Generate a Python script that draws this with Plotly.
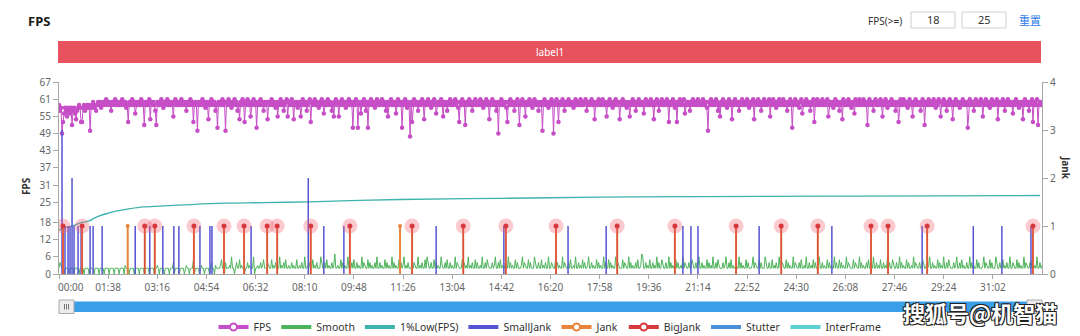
import plotly.graph_objects as go

# ---------------------------------------------------------------- data
SAMPLE_STEP = 2  # seconds between FPS / Smooth samples

# FPS, one row = 40 samples (80 s)
FPS_ROWS = [
    "59 57 58 49 53 56 58 57 55 58 57 56 58 52 57 58 56 54 57 58 59 58 53 53 58 59 57 58 59 58 59 50 58 59 60 58 59 57 59 60",
    "59 60 58 59 60 59 60 61 59 60 60 59 57 60 59 60 61 59 60 59 59 60 59 61 60 59 60 58 59 53 60 59 60 61 59 60 56 59 60 59",
    "60 59 61 60 59 52 60 59 60 59 61 54 60 59 60 59 57 52 60 59 59 60 61 59 58 60 59 60 61 59 60 59 60 59 55 60 61 59 60 59",
    "59 60 61 59 60 60 59 57 60 59 60 61 59 60 53 59 60 59 50 60 59 60 59 61 60 59 58 60 59 54 60 59 61 60 59 60 57 59 51 60",
    "60 59 60 61 59 60 50 60 59 61 59 60 58 59 60 61 59 60 57 59 54 60 59 61 60 53 59 60 61 59 60 55 59 60 61 59 60 51 59 60",
    "59 61 60 59 57 60 59 60 54 60 59 60 61 59 60 59 58 60 55 59 60 61 59 60 57 59 60 61 55 60 59 60 61 59 54 60 59 60 58 59",
    "60 55 59 61 60 59 60 57 59 60 61 53 60 59 60 61 59 60 59 58 60 59 61 60 56 59 60 59 61 60 59 60 57 59 55 60 61 59 60 55",
    "60 59 61 60 59 60 58 59 60 61 59 60 59 51 60 59 61 60 51 59 60 56 59 60 61 59 57 60 51 59 60 61 59 60 59 58 60 61 59 60",
    "59 60 61 59 60 59 57 60 55 59 60 61 59 60 59 60 56 59 61 60 59 60 51 59 60 61 59 58 60 59 48 60 53 59 61 60 59 60 57 59",
    "60 59 61 60 54 59 60 59 61 60 59 58 60 59 61 60 56 59 60 59 60 61 59 55 60 59 60 57 59 60 61 59 60 59 60 61 59 60 58 53",
    "60 59 61 60 59 52 60 59 60 61 59 60 57 59 60 61 59 60 59 60 61 59 60 58 59 60 61 59 60 54 59 60 61 59 60 59 57 60 49 59",
    "60 61 59 60 59 60 58 53 60 59 61 60 59 60 57 59 60 61 59 52 60 59 61 60 59 55 60 59 60 61 59 60 58 59 61 60 59 60 57 59",
    "60 59 50 60 61 59 60 59 58 60 59 61 60 49 59 60 61 59 53 60 59 60 61 59 57 60 59 60 61 59 60 59 60 58 59 61 60 59 60 59",
    "61 59 60 59 60 61 57 59 60 59 60 61 59 60 54 59 60 59 61 60 59 60 61 59 60 59 55 60 59 61 60 59 58 60 59 61 60 59 60 54",
    "60 59 61 60 59 60 58 59 60 55 59 60 61 59 60 57 59 60 61 59 60 59 60 56 59 61 60 59 60 59 61 60 59 54 60 59 61 60 57 59",
    "60 61 59 60 59 60 61 59 53 60 59 60 61 59 58 60 53 59 60 61 59 60 59 61 56 59 60 59 60 57 60 59 61 60 59 60 59 61 60 59",
    "60 59 61 60 59 60 58 50 60 59 61 60 59 60 59 61 60 57 59 55 60 59 61 60 59 60 58 59 61 60 59 54 60 59 61 60 59 60 57 59",
    "60 61 59 60 59 60 61 59 58 60 59 60 61 54 60 59 60 61 59 60 57 59 60 61 59 60 59 60 61 55 60 59 61 60 59 58 60 59 61 60",
    "59 60 61 59 60 59 57 60 59 61 60 51 59 60 61 59 60 59 58 60 61 56 59 60 59 61 60 59 60 57 59 60 61 53 59 60 61 59 60 59",
    "60 61 59 60 59 60 61 55 59 60 59 60 58 59 61 60 59 60 57 59 60 54 61 59 60 59 60 61 59 60 58 59 60 56 61 59 60 59 61 60",
    "59 60 61 59 60 59 52 60 61 59 60 59 57 60 61 59 60 59 60 61 59 55 60 59 61 60 58 59 60 59 61 60 59 60 57 59 60 53 59 61",
    "60 59 61 60 59 60 58 59 61 60 59 55 60 59 61 60 59 60 59 57 60 61 59 52 60 59 60 61 59 60 59 60 61 59 58 60 59 61 60 55",
    "60 59 61 60 59 57 60 59 61 60 59 54 60 59 61 60 59 60 58 59 60 61 59 60 59 60 51 59 61 60 59 60 57 59 61 60 59 60 59 61",
    "60 55 59 60 61 59 60 59 58 60 61 59 60 59 60 61 54 59 60 59 60 61 59 57 60 59 61 60 59 60 59 56 60 59 61 60 59 58 60 59",
    "60 54 59 61 60 59 60 57 59 60 61 53 59 60 59 61 52 59 60 59 60",
]
FPS = [int(v) for row in FPS_ROWS for v in row.split()]

# Smooth, same grid, one digit per sample
SMOOTH_ROWS = [
    "2432202222022220222202222022220222202222",
    "0222202222022220222202222032220222202222",
    "0222202222022220223202222022220222402222",
    "0222202322022250222202322022220242203222",
    "2352204222326220242252322022423222602232",
    "2423522243225232422262324252232242322522",
    "3242262232422523242226322425232242372232",
    "2524232262324252242322624322524232242622",
    "4232252423226242322524236232422252432262",
    "3242252632242252423226322425224232262432",
    "2252423262324225242232622425322242362242",
    "5232242262423225242223624322524222632242",
    "2523242262243225242322624322425223262242",
    "3252422362242322524232262422524232262432",
    "2252432262423224252237622423252242326242",
    "2532242262423225242232624322422532242362",
    "2423225242326224253222423622425232242262",
    "4232252422236243225242226322422523242262",
    "2432252423226243224252232622423252422362",
    "2423225242322624225242322624322252432262",
    "4232242522326224232522423262422532242262",
    "4232252422326243224225322423622423225242",
    "3262242532224236224252322422624232252422",
    "2362432252422263224225232422622432252423",
    "226243224252232622423",
]
SMOOTH = [int(c) for c in "".join(SMOOTH_ROWS)]

# 1%Low(FPS) running value
LOW1_T = [0, 8, 22, 46, 62, 68, 82, 98, 116, 142, 168, 201, 247, 327, 407,
          497, 580, 680, 879, 1079, 1278, 1591, 1956]
LOW1_V = [15.3, 16.0, 16.5, 18.0, 18.6, 19.3, 20.4, 21.2, 22.0, 22.8, 23.4,
          23.7, 24.1, 24.7, 24.9, 25.2, 25.6, 26.0, 26.4, 26.8, 27.0, 27.2, 27.4]

# jank events: time (s) and count
SMALLJANK_T = [6, 12, 18, 22, 26, 30, 38, 44, 62, 68, 86, 152, 181, 207, 229,
               239, 281, 301, 305, 383, 497, 528, 568, 752, 887, 1015, 1091,
               1244, 1260, 1274, 1396, 1541, 1721, 1823, 1880, 1938]
SMALLJANK_V = [3, 1, 1, 1, 2, 1, 1, 1, 1, 1, 1, 1, 1, 1, 1,
               1, 1, 1, 1, 1, 2, 1, 1, 1, 1, 1, 1,
               1, 1, 1, 1, 1, 1, 1, 1, 1]

JANK_T = [8, 46, 137, 171, 191, 269, 329, 369, 415, 435, 502, 580, 680, 704,
          806, 891, 991, 1113, 1228, 1350, 1440, 1513, 1619, 1653, 1731, 1942]
JANK_V = [1, 1, 1, 1, 1, 1, 1, 1, 1, 1, 1, 1, 1, 1,
          1, 1, 1, 1, 1, 1, 1, 1, 1, 1, 1, 1]

BIGJANK_T = [8, 46, 171, 191, 269, 329, 369, 415, 435, 502, 580, 704, 806,
             891, 991, 1113, 1228, 1350, 1440, 1513, 1619, 1653, 1731, 1942]
BIGJANK_V = [1, 1, 1, 1, 1, 1, 1, 1, 1, 1, 1, 1, 1,
             1, 1, 1, 1, 1, 1, 1, 1, 1, 1, 1]

STUTTER_T, STUTTER_V = [], []
INTERFRAME_T, INTERFRAME_V = [], []

# axes
X_END = 1960
FPS_TICKS = [0, 6, 12, 18, 25, 31, 37, 43, 49, 55, 61, 67]
JANK_TICKS = [0, 1, 2, 3, 4]
TIME_LABELS = ["00:00", "01:38", "03:16", "04:54", "06:32", "08:10", "09:48",
               "11:26", "13:04", "14:42", "16:20", "17:58", "19:36", "21:14",
               "22:52", "24:30", "26:08", "27:46", "29:24", "31:02"]

# ---------------------------------------------------------------- helpers
W, H = 1080, 336
L, R, T, B = 59, 1042, 82, 274
FONT = "Noto Sans, Noto Sans CJK SC, sans-serif"
CJK = "Noto Sans CJK SC, sans-serif"


def px(x):
    return (x - L) / (R - L)


def py(y):
    return (B - y) / (B - T)


def secs(label):
    m, s = label.split(":")
    return int(m) * 60 + int(s)


def spikes(times, values):
    xs, ys = [], []
    for t, v in zip(times, values):
        xs += [t, t, None]
        ys += [0, v, None]
    return (xs or [None]), (ys or [None])


def tops(times, values):
    xs, ys = [], []
    for t, v in zip(times, values):
        xs += [t, None]
        ys += [v, None]
    return (xs or [None]), (ys or [None])


C_FPS = "#c64ec6"
C_SMOOTH = "#4db35a"
C_LOW = "#3fb3ad"
C_SMALL = "#5454d4"
C_JANK = "#e8843c"
C_BIG = "#d63a40"
C_STUT = "#4a8fdc"
C_INTER = "#5ed0d0"

fps_t = [i * SAMPLE_STEP for i in range(len(FPS))]
smooth_t = [i * SAMPLE_STEP for i in range(len(SMOOTH))]

fig = go.Figure()

fig.add_trace(go.Scatter(x=smooth_t, y=SMOOTH, mode="lines", name="Smooth",
                         line=dict(color=C_SMOOTH, width=1), showlegend=False))
fig.add_trace(go.Scatter(x=LOW1_T, y=LOW1_V, mode="lines", name="1%Low(FPS)",
                         line=dict(color=C_LOW, width=1.3, shape="spline"),
                         showlegend=False))

sx, sy = spikes(STUTTER_T, STUTTER_V)
fig.add_trace(go.Scatter(x=sx, y=sy, yaxis="y2", mode="lines", name="Stutter",
                         line=dict(color=C_STUT, width=1.5), showlegend=False))
ix, iy = spikes(INTERFRAME_T, INTERFRAME_V)
fig.add_trace(go.Scatter(x=ix, y=iy, yaxis="y2", mode="lines", name="InterFrame",
                         line=dict(color=C_INTER, width=1.5), showlegend=False))

kx, ky = spikes(SMALLJANK_T, SMALLJANK_V)
fig.add_trace(go.Scatter(x=kx, y=ky, yaxis="y2", mode="lines", name="SmallJank",
                         line=dict(color=C_SMALL, width=1.5), showlegend=False))

jx, jy = spikes(JANK_T, JANK_V)
fig.add_trace(go.Scatter(x=jx, y=jy, yaxis="y2", mode="lines", name="Jank",
                         line=dict(color=C_JANK, width=2), showlegend=False))
bx, by = spikes(BIGJANK_T, BIGJANK_V)
fig.add_trace(go.Scatter(x=bx, y=by, yaxis="y2", mode="lines", name="BigJank",
                         line=dict(color=C_BIG, width=1), showlegend=False))

fig.add_trace(go.Scatter(x=fps_t, y=FPS, mode="lines+markers", name="FPS",
                         line=dict(color=C_FPS, width=1),
                         marker=dict(color=C_FPS, size=4.5), showlegend=False))

jtx, jty = tops(JANK_T, JANK_V)
fig.add_trace(go.Scatter(x=jtx, y=jty, yaxis="y2", mode="markers", name="Jank",
                         marker=dict(color=C_JANK, size=4), showlegend=False))
btx, bty = tops(BIGJANK_T, BIGJANK_V)
fig.add_trace(go.Scatter(x=btx, y=bty, yaxis="y2", mode="markers", hoverinfo="skip",
                         marker=dict(color="rgba(240,95,105,0.33)", size=15),
                         showlegend=False))
fig.add_trace(go.Scatter(x=btx, y=bty, yaxis="y2", mode="markers", name="BigJank",
                         marker=dict(color=C_BIG, size=5), showlegend=False))

# legend entries (series name, colour, drawn with symbol)
LEGEND = [("FPS", C_FPS, True), ("Smooth", C_SMOOTH, False),
          ("1%Low(FPS)", C_LOW, False), ("SmallJank", C_SMALL, False),
          ("Jank", C_JANK, True), ("BigJank", C_BIG, True),
          ("Stutter", C_STUT, False), ("InterFrame", C_INTER, False)]
for name, color, sym in LEGEND:
    fig.add_trace(go.Scatter(
        x=[None], y=[None], name=name,
        mode="lines+markers" if sym else "lines",
        line=dict(color=color, width=4),
        marker=dict(color="white", size=7, line=dict(color=color, width=2)),
    ))

# ---------------------------------------------------------------- decorations
shapes = [
    # label band
    dict(type="rect", xref="paper", yref="paper", x0=px(58), x1=px(1041),
         y0=py(63), y1=py(41), fillcolor="#e8525f", line=dict(width=0), layer="below"),
    # threshold inputs
    dict(type="rect", xref="paper", yref="paper", x0=px(911), x1=px(955),
         y0=py(28), y1=py(12), fillcolor="white", line=dict(color="#cfcfcf", width=1)),
    dict(type="rect", xref="paper", yref="paper", x0=px(962), x1=px(1006),
         y0=py(28), y1=py(12), fillcolor="white", line=dict(color="#cfcfcf", width=1)),
    # zoom slider
    dict(type="rect", xref="paper", yref="paper", x0=px(72), x1=px(1030),
         y0=py(312), y1=py(301.5), fillcolor="#3a9fe8", line=dict(width=0)),
    dict(type="rect", xref="paper", yref="paper", x0=px(59), x1=px(74),
         y0=py(313.5), y1=py(300), fillcolor="#ececec", line=dict(color="#aaaaaa", width=1)),
    dict(type="rect", xref="paper", yref="paper", x0=px(1027), x1=px(1042),
         y0=py(313.5), y1=py(300), fillcolor="#ececec", line=dict(color="#aaaaaa", width=1)),
]
for gx in (64.5, 66.5, 68.5, 1032.5, 1034.5, 1036.5):
    shapes.append(dict(type="line", xref="paper", yref="paper", x0=px(gx), x1=px(gx),
                       y0=py(304), y1=py(309.5), line=dict(color="#777777", width=1)))

ann = [
    dict(text="<b>FPS</b>", x=px(26), y=py(21), xanchor="left",
         font=dict(size=13, color="#1a1a1a")),
    dict(text="FPS(>=)", x=px(904), y=py(21), xanchor="right",
         font=dict(size=10, color="#333333")),
    dict(text="18", x=px(933), y=py(20), font=dict(size=11, color="#333333")),
    dict(text="25", x=px(984), y=py(20), font=dict(size=11, color="#333333")),
    dict(text="重置", x=px(1030), y=py(20), font=dict(size=11, color="#2d7be5", family=CJK)),
    dict(text="label1", x=px(550), y=py(52), font=dict(size=10, color="white")),
    dict(text="<b>FPS</b>", x=px(26), y=py(186), textangle=-90,
         font=dict(size=10, color="#333333")),
    dict(text="<b>Jank</b>", x=px(1066), y=py(168), textangle=90,
         font=dict(size=10, color="#333333")),
    dict(text=TIME_LABELS[0], xref="x", x=secs(TIME_LABELS[0]), xshift=12,
         y=py(287), font=dict(size=10, color="#666666")),
    dict(text="搜狐号@机智猫", x=px(980), y=py(312),
         font=dict(size=22, color="white", family=CJK, weight="bold",
                   shadow="-1px -1px 0 #222, 1px -1px 0 #222, -1px 1px 0 #222, 1px 1px 0 #222")),
]
for a in ann:
    a.setdefault("xref", "paper")
    a.setdefault("yref", "paper")
    a.setdefault("xanchor", "center")
    a.setdefault("yanchor", "middle")
    a["showarrow"] = False

tick_vals = [secs(s) for s in TIME_LABELS]
tick_text = [""] + TIME_LABELS[1:]

axis_common = dict(showgrid=False, zeroline=False, showline=True,
                   linecolor="#a8a8a8", ticks="outside", tickcolor="#a8a8a8",
                   tickfont=dict(size=10, color="#666666"), fixedrange=True)

fig.update_layout(
    width=W, height=H,
    margin=dict(l=L, r=W - R, t=T, b=H - B),
    paper_bgcolor="white", plot_bgcolor="white",
    font=dict(family=FONT, color="#333333"),
    shapes=shapes, annotations=ann,
    xaxis=dict(range=[0, X_END], tickvals=tick_vals, ticktext=tick_text,
               ticklen=4, **axis_common),
    yaxis=dict(range=[0, 67], tickvals=FPS_TICKS, ticklen=5, **axis_common),
    yaxis2=dict(range=[0, 4], tickvals=JANK_TICKS, ticklen=5, overlaying="y",
                side="right", **axis_common),
    legend=dict(orientation="h", xref="container", yref="container",
                x=550 / W, xanchor="center", y=1 - 327 / H, yanchor="middle",
                font=dict(size=10.5, color="#333333"), itemwidth=30,
                bgcolor="rgba(0,0,0,0)"),
    showlegend=True,
)

fig.write_html("out.html")
